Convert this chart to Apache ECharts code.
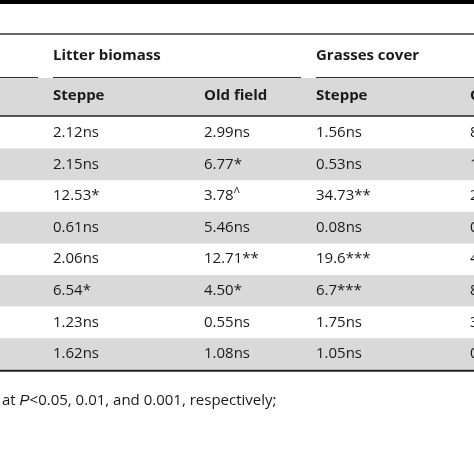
<!DOCTYPE html>
<html><head><meta charset="utf-8">
<script src="https://cdn.jsdelivr.net/npm/echarts@6/dist/echarts.min.js"></script>
<style>html,body{margin:0;padding:0;background:#fff}#container{width:474px;height:474px}</style>
</head><body><div id="container"></div>
<script>
var dom = document.getElementById("container");
var myChart = echarts.init(dom);

var groupHeaders = ['Litter biomass', 'Grasses cover'];
var subHeaders = ['Steppe', 'Old field', 'Steppe', 'Old field'];
var litterSteppe = ['2.12ns', '2.15ns', '12.53*', '0.61ns', '2.06ns', '6.54*', '1.23ns', '1.62ns'];
var litterOld = ['2.99ns', '6.77*', '3.78{s|\u039b}', '5.46ns', '12.71**', '4.50*', '0.55ns', '1.08ns'];
var grassSteppe = ['1.56ns', '0.53ns', '34.73**', '0.08ns', '19.6***', '6.7***', '1.75ns', '1.05ns'];
var grassOld = ['8', '1', '2', '0', '4', '8', '3', '0'];
var footnote = 'at {i|P}<0.05, 0.01, and 0.001, respectively;';

var colX = [53, 204, 316, 470];
var rowTop = 117, rowH = 31.6;
var font = '"Open Sans", "DejaVu Sans", sans-serif';
var els = [];

function line(x1, y, x2, w, c) {
    els.push({type: 'line', shape: {x1: x1, y1: y, x2: x2, y2: y}, style: {stroke: c, lineWidth: w}});
}
function text(x, y, t, bold) {
    els.push({type: 'text', x: x, y: y, style: {
        text: t, font: (bold ? 'bold ' : '') + '15px ' + font, fill: '#1a1a1a', verticalAlign: 'middle',
        rich: {s: {fontSize: 9, verticalAlign: 'top', padding: [0, 0, 10, 0]}, i: {fontStyle: 'italic', fontSize: 15}}
    }});
}

// bands
els.push({type: 'rect', shape: {x: 0, y: 78, width: 474, height: 38}, style: {fill: '#d9d9d9'}});
for (var r = 0; r < litterSteppe.length; r++) {
    if (r % 2 === 1) {
        els.push({type: 'rect', shape: {x: 0, y: rowTop + r * rowH, width: 474, height: rowH}, style: {fill: '#d9d9d9'}});
    }
}
// rules
els.push({type: 'rect', shape: {x: 0, y: 0, width: 474, height: 4}, style: {fill: '#000'}});
line(0, 34, 474, 1.5, '#333');
line(0, 77.5, 38, 1, '#333');
line(53, 77.5, 301, 1, '#333');
line(316, 77.5, 474, 1, '#333');
line(0, 116, 474, 1.5, '#222');
line(0, rowTop + litterSteppe.length * rowH + 1, 474, 2, '#222');

// headers
text(colX[0], 56, groupHeaders[0], true);
text(colX[2], 56, groupHeaders[1], true);
for (var c = 0; c < subHeaders.length; c++) text(colX[c], 96, subHeaders[c], true);

var cols = [litterSteppe, litterOld, grassSteppe, grassOld];
for (var c = 0; c < cols.length; c++) {
    for (var r = 0; r < cols[c].length; r++) {
        text(colX[c], rowTop + r * rowH + rowH / 2, cols[c][r], false);
    }
}
text(2, 401, footnote, false);

option = {backgroundColor: '#fff', graphic: {elements: els}};
myChart.setOption(option, true);
</script></body></html>
